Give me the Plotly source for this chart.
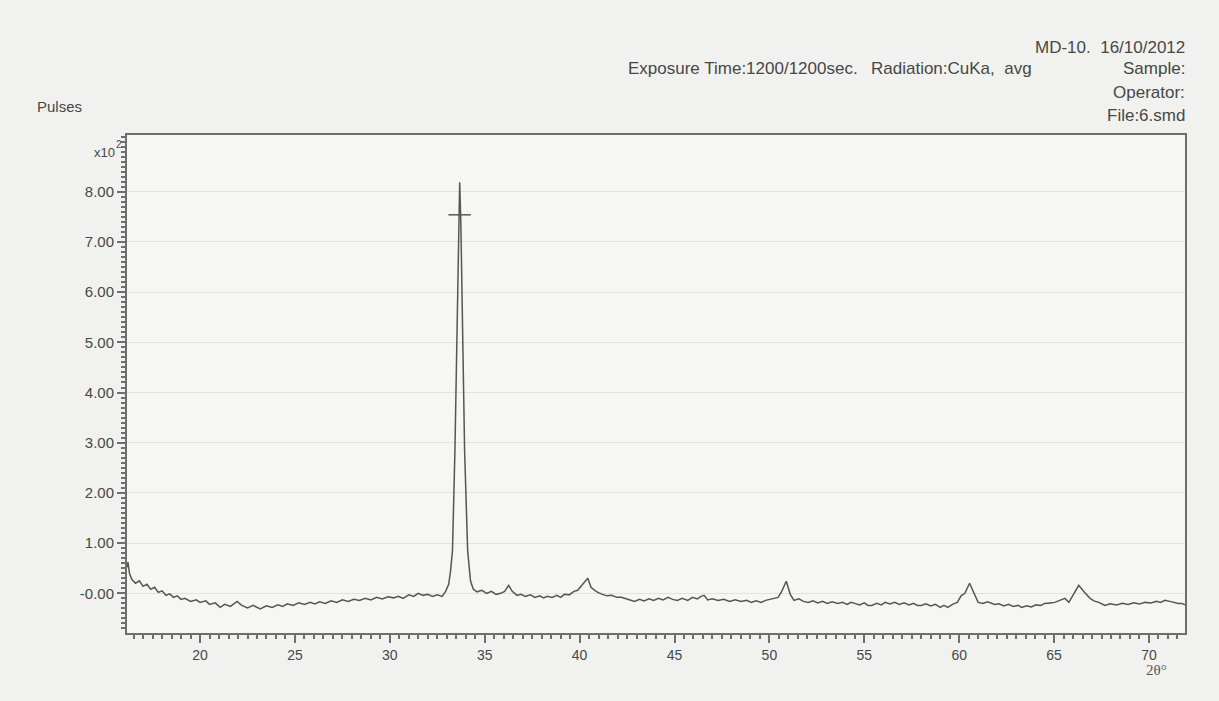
import plotly.graph_objects as go

# Diffraction scan (2-theta in degrees, intensity in pulses)
two_theta = [
    16.15, 16.2, 16.28, 16.4, 16.6, 16.8, 17.0, 17.2, 17.4, 17.6, 17.8, 18.0,
    18.2, 18.4, 18.6, 18.8, 19.0, 19.2, 19.5, 19.8, 20.0, 20.3, 20.5, 20.8,
    21.06, 21.3, 21.6, 21.95, 22.2, 22.5, 22.8, 23.17, 23.5, 23.8, 24.1, 24.35,
    24.6, 24.9, 25.2, 25.5, 25.8, 26.05, 26.3, 26.6, 26.9, 27.2, 27.5, 27.8,
    28.1, 28.4, 28.7, 29.0, 29.3, 29.6, 29.9, 30.2, 30.45, 30.7, 31.0, 31.25,
    31.5, 31.75, 32.0, 32.25, 32.5, 32.75, 32.94, 33.1, 33.2, 33.3, 33.43, 33.55,
    33.62, 33.68, 33.74, 33.82, 33.94, 34.1, 34.25, 34.4, 34.6, 34.85, 35.1, 35.35,
    35.6, 35.84, 36.05, 36.26, 36.45, 36.7, 36.9, 37.15, 37.4, 37.65, 37.9, 38.1,
    38.3, 38.55, 38.8, 39.0, 39.2, 39.45, 39.7, 39.9, 40.1, 40.25, 40.43, 40.6,
    40.8, 40.96, 41.2, 41.45, 41.7, 41.95, 42.2, 42.45, 42.7, 42.9, 43.15, 43.4,
    43.65, 43.9, 44.15, 44.4, 44.66, 44.9, 45.15, 45.4, 45.7, 45.95, 46.2, 46.4,
    46.56, 46.75, 47.0, 47.3, 47.6, 47.9, 48.2, 48.5, 48.8, 49.05, 49.3, 49.57,
    49.8, 50.05, 50.3, 50.46, 50.65, 50.89, 51.1, 51.3, 51.55, 51.8, 52.05, 52.3,
    52.55, 52.8, 53.05, 53.3, 53.6, 53.85, 54.1, 54.3, 54.5, 54.75, 55.0, 55.2,
    55.4, 55.65, 55.9, 56.1, 56.35, 56.6, 56.85, 57.1, 57.35, 57.6, 57.8, 58.0,
    58.25, 58.5, 58.75, 59.0, 59.2, 59.4, 59.65, 59.9, 60.1, 60.3, 60.55, 60.78,
    61.0, 61.25, 61.5, 61.87, 62.1, 62.35, 62.6, 62.85, 63.1, 63.3, 63.55, 63.8,
    64.05, 64.3, 64.5, 64.8, 65.04, 65.3, 65.57, 65.78, 66.05, 66.3, 66.6, 66.9,
    67.1, 67.36, 67.68, 67.95, 68.3, 68.6, 68.9, 69.2, 69.5, 69.8, 70.1, 70.4,
    70.6, 70.85, 71.1, 71.35, 71.55, 71.74, 71.9,
]
pulses = [
    52, 62, 40, 28, 20, 25, 14, 18, 8, 12, 2, 5,
    -4, -1, -8, -5, -12, -10, -16, -13, -18, -15, -22, -19,
    -28, -22, -26, -16, -24, -29, -24, -31, -25, -28, -23, -26,
    -21, -24, -19, -22, -18, -21, -17, -20, -15, -18, -13, -16,
    -12, -14, -10, -13, -8, -11, -7, -9, -6, -10, -3, -6,
    0, -4, -2, -6, -3, -6, 4, 18, 45, 85, 284, 581,
    740, 819, 740, 581, 284, 85, 25, 8, 3, 6, 0, 4,
    -2, 0, 4, 16, 4, -4, -2, -6, -3, -8, -5, -9,
    -6, -8, -4, -8, -2, -3, 4, 6, 14, 22, 30, 12,
    6, 2, -2, -5, -4, -8, -8, -11, -14, -16, -12, -15,
    -11, -14, -10, -13, -8, -12, -14, -10, -14, -8, -11, -6,
    -4, -13, -11, -14, -12, -16, -13, -16, -14, -18, -15, -18,
    -14, -12, -9, -8, 4, 24, -2, -14, -11, -16, -18, -15,
    -19, -16, -20, -17, -20, -18, -22, -18, -20, -23, -19, -24,
    -24, -20, -23, -18, -21, -18, -22, -19, -23, -20, -24, -24,
    -21, -25, -22, -28, -24, -28, -22, -18, -5, 0, 20, 0,
    -18, -20, -17, -22, -21, -25, -22, -26, -24, -28, -25, -27,
    -23, -24, -20, -19, -18, -14, -10, -18, 0, 16, 2, -10,
    -15, -18, -24, -21, -23, -20, -22, -19, -21, -18, -19, -16,
    -18, -14, -16, -18, -20, -20, -23,
]

# Peak-search cross marker on the main reflection
mark_theta = [33.68]
mark_pulses = [754]

y_ticks = [0, 100, 200, 300, 400, 500, 600, 700, 800]
y_labels = ["-0.00", "1.00", "2.00", "3.00", "4.00", "5.00", "6.00", "7.00", "8.00"]
x_ticks = [20, 25, 30, 35, 40, 45, 50, 55, 60, 65, 70]

INK = "#555555"
FRAME = "#6e6e6e"
PAPER = "#f1f2f0"
PLOT = "#f6f7f5"
TXT = "#474747"
FONT = "Liberation Sans, Arial, sans-serif"

W, H = 1219, 701
L, R, T, B = 127, 34, 135, 68
PW, PH = W - L - R, H - T - B


def px(xp, yp):
    # pixel position on the page -> paper coordinates
    return (xp - L) / PW, (H - B - yp) / PH


def note(text, xp, yp, anchor, size, family=FONT, color=TXT):
    ax, ay = px(xp, yp)
    return dict(text=text, x=ax, y=ay, xref="paper", yref="paper",
                xanchor=anchor, yanchor="middle", showarrow=False,
                font=dict(family=family, size=size, color=color))


# header block of the instrument printout, placed piece by piece
annotations = [
    note("MD-10.  16/10/2012", 1187, 47, "right", 17),
    note("Exposure Time:1200/1200sec.", 626, 69, "left", 17),
    note("Radiation:CuKa,  avg", 869, 69, "left", 17),
    note("Sample:", 1187, 69, "right", 17),
    note("Operator:", 1187, 92, "right", 17),
    note("File:6.smd", 1187, 116, "right", 17),
    note("Pulses", 35, 107, "left", 15),
    note("x10", 117, 152, "right", 13),
    note("2", 124, 144, "right", 10),
    note("2θ°", 1156, 670, "center", 15, "Liberation Serif, serif", "#555555"),
]

fig = go.Figure()
fig.add_trace(go.Scatter(
    x=two_theta, y=pulses, mode="lines",
    line=dict(color=INK, width=1.5),
    hoverinfo="skip",
))
fig.add_trace(go.Scatter(
    x=mark_theta, y=mark_pulses, mode="markers",
    marker=dict(symbol="line-ew", size=16, line=dict(color=INK, width=1.5)),
    hoverinfo="skip",
))

fig.update_layout(
    width=W, height=H,
    margin=dict(l=L, r=R, t=T, b=B),
    paper_bgcolor=PAPER,
    plot_bgcolor=PLOT,
    showlegend=False,
    font=dict(family=FONT, size=15, color=TXT),
    annotations=annotations,
    xaxis=dict(
        range=[16.15, 71.9], tickvals=x_ticks,
        ticks="outside", ticklen=8, tickwidth=1.5, tickcolor=FRAME,
        minor=dict(dtick=0.5, ticks="outside", ticklen=4, tickcolor=FRAME),
        showline=True, linecolor=FRAME, linewidth=2, mirror=True,
        showgrid=False, zeroline=False,
        tickfont=dict(size=14, color=TXT),
    ),
    yaxis=dict(
        range=[-79, 913], tickvals=y_ticks, ticktext=y_labels,
        ticks="outside", ticklen=8, tickwidth=1.5, tickcolor=FRAME,
        minor=dict(dtick=10, ticks="outside", ticklen=4, tickcolor=FRAME, showgrid=False),
        showline=True, linecolor=FRAME, linewidth=2, mirror=True,
        showgrid=True, gridcolor="#e1e2df", gridwidth=1, zeroline=False,
        tickfont=dict(size=15, color=TXT),
    ),
)

fig.write_html("out.html", config={"displayModeBar": False},
               post_script="document.body.style.margin='0';")
